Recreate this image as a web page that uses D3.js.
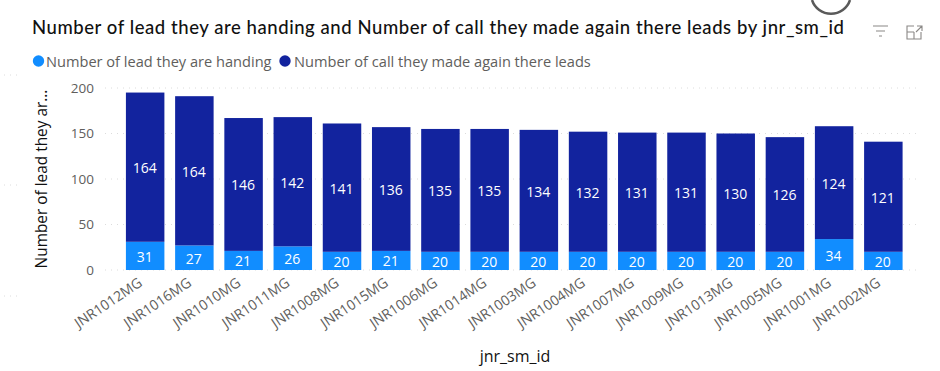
<!DOCTYPE html>
<html><head><meta charset="utf-8">
<script src="https://cdn.jsdelivr.net/npm/d3@7"></script>
<style>html,body{margin:0;padding:0;background:#fff}svg{display:block}</style>
</head><body><svg id="c" width="940" height="371"></svg>
<script>
const categories=["JNR1012MG","JNR1016MG","JNR1010MG","JNR1011MG","JNR1008MG","JNR1015MG","JNR1006MG","JNR1014MG","JNR1003MG","JNR1004MG","JNR1007MG","JNR1009MG","JNR1013MG","JNR1005MG","JNR1001MG","JNR1002MG"];
const leads=[31,27,21,26,20,21,20,20,20,20,20,20,20,20,34,20];
const calls=[164,164,146,142,141,136,135,135,134,132,131,131,130,126,124,121];
const yTicks=[0,50,100,150,200];
const seriesNames=["Number of lead they are handing","Number of call they made again there leads"];
const colors=["#118DFF","#12239E"];
const svg=d3.select("#c");
const sans="'Open Sans',sans-serif";
const x=d3.scaleBand().domain(categories).range([120.5,908]).paddingInner(0.218).paddingOuter(0.11);
const y=d3.scaleLinear().domain([0,200]).range([270,88]);
// grid
svg.append("g").selectAll("line").data(yTicks).join("line")
 .attr("x1",105).attr("x2",917).attr("y1",d=>y(d)).attr("y2",d=>y(d))
 .attr("stroke","#dcdcdc").attr("stroke-width",1).attr("stroke-dasharray","1 5");
// stray frame dots
[75,185,296].forEach(yy=>svg.append("line").attr("x1",4).attr("x2",20).attr("y1",yy).attr("y2",yy).attr("stroke","#dcdcdc").attr("stroke-dasharray","1 5"));
// y axis
const ya=svg.append("g").attr("transform","translate(94,0)").call(d3.axisLeft(y).tickValues(yTicks).tickSize(0).tickPadding(0));
ya.select(".domain").remove();
ya.selectAll("text").attr("font-family",sans).attr("font-size",13.5).attr("fill","#605E5C");
// x axis
const xa=svg.append("g").attr("transform","translate(0,270)").call(d3.axisBottom(x).tickSize(0).tickPadding(0));
xa.select(".domain").remove();
xa.selectAll("text").attr("font-family",sans).attr("font-size",14).attr("fill","#605E5C")
 .attr("text-anchor","end").attr("dy",0).attr("y",0)
 .attr("transform","translate(-2,15) rotate(-34)");
// bars
const bars=svg.append("g");
bars.selectAll("rect.l").data(categories).join("rect").attr("class","l")
 .attr("x",d=>x(d)).attr("width",x.bandwidth())
 .attr("y",(d,i)=>y(leads[i])).attr("height",(d,i)=>y(0)-y(leads[i])).attr("fill",colors[0]);
bars.selectAll("rect.c").data(categories).join("rect").attr("class","c")
 .attr("x",d=>x(d)).attr("width",x.bandwidth())
 .attr("y",(d,i)=>y(leads[i]+calls[i])).attr("height",(d,i)=>y(leads[i])-y(leads[i]+calls[i])).attr("fill",colors[1]);
// labels
const lab=svg.append("g").attr("font-family",sans).attr("font-size",14).attr("fill","#fff").attr("text-anchor","middle");
lab.selectAll("text.l").data(categories).join("text").attr("class","l")
 .attr("x",d=>x(d)+x.bandwidth()/2-0.5).attr("y",(d,i)=>(y(0)+y(leads[i]))/2+6).text((d,i)=>leads[i]);
lab.selectAll("text.c").data(categories).join("text").attr("class","c")
 .attr("x",d=>x(d)+x.bandwidth()/2-0.5).attr("y",(d,i)=>(y(leads[i])+y(leads[i]+calls[i]))/2+6).text((d,i)=>calls[i]);
// title
svg.append("text").attr("x",32).attr("y",34).attr("font-family","Lato,sans-serif").attr("font-size",18.5).attr("font-weight",500)
 .attr("letter-spacing",0.56).attr("fill","#111").text("Number of lead they are handing and Number of call they made again there leads by jnr_sm_id");
// legend
const lg=svg.append("g").attr("font-family",sans).attr("font-size",14.6).attr("fill","#605E5C");
[[38.5,46,seriesNames[0]],[285,294,seriesNames[1]]].forEach((r,i)=>{
 lg.append("circle").attr("cx",r[0]).attr("cy",61).attr("r",5.7).attr("fill",colors[i]);
 lg.append("text").attr("x",r[1]).attr("y",67).text(r[2]);
});
// axis titles
svg.append("text").attr("transform","translate(47,179) rotate(-90)").attr("text-anchor","middle")
 .attr("font-family",sans).attr("font-size",15.4).attr("fill","#111").text("Number of lead they ar...");
svg.append("text").attr("x",515).attr("y",362).attr("text-anchor","middle")
 .attr("font-family",sans).attr("font-size",16).attr("fill","#111").text("jnr_sm_id");
// header icons
const ic=svg.append("g").attr("fill","none").attr("stroke","#8a8886").attr("stroke-width",1.1);
ic.append("path").attr("d","M873 26H888M876 31H885M879 36H882");
ic.append("path").attr("d","M914 26H907V39H921V32M914 32H907M914 32V39M917 26H922V31M922 26L916 32");
svg.append("path").attr("d","M812 0A20 20 0 0 0 850 0").attr("fill","none").attr("stroke","#5a5a5a").attr("stroke-width",2.5);
</script></body></html>
